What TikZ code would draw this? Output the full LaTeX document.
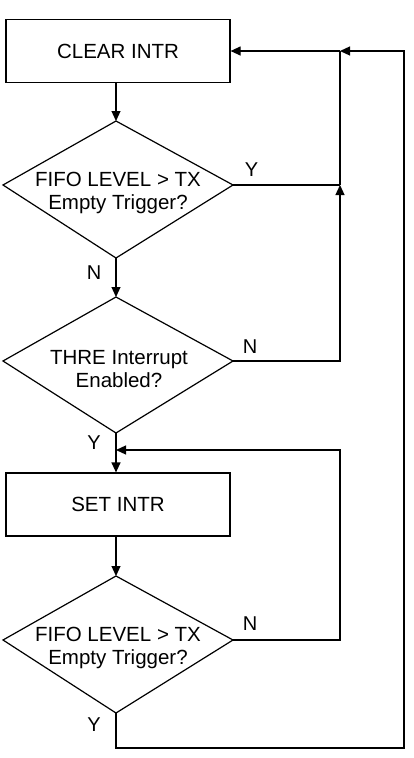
\documentclass[tikz,border=0pt]{standalone}
\usepackage{fontspec}
\setmainfont{Liberation Sans}
\usetikzlibrary{arrows.meta}
\begin{document}
\begin{tikzpicture}[x=1pt,y=-1pt, line width=1.2pt,
  arr/.style={-{Triangle[length=10pt,width=9pt]}},
  box/.style={draw, minimum width=224pt, minimum height=63pt, inner sep=0pt, font=\fontsize{20.5}{23.5}\selectfont},
  txt/.style={align=center, inner sep=0pt, font=\fontsize{20.5}{23.5}\selectfont},
  lbl/.style={inner sep=0pt, font=\fontsize{20}{22}\selectfont}]
\useasboundingbox (0,0) rectangle (414,758);
% boxes
\node[box] (clr) at (118,51) {CLEAR INTR};
\node[box] (set) at (118,504.5) {SET INTR};
% diamond 1
\coordinate (d1t) at (116,121);
\coordinate (d1r) at (233,185);
\coordinate (d1b) at (116,258);
\coordinate (d1l) at (3,185);
\draw (d1t) -- (d1r) -- (d1b) -- (d1l) -- cycle;
\node[txt] (d1) at (118,193) {FIFO LEVEL > TX\\Empty Trigger?};
% diamond 2
\coordinate (d2t) at (116,297);
\coordinate (d2r) at (233,361);
\coordinate (d2b) at (116,433);
\coordinate (d2l) at (3,361);
\draw (d2t) -- (d2r) -- (d2b) -- (d2l) -- cycle;
\node[txt] (d2) at (119,369) {THRE Interrupt\\Enabled?};
% diamond 3
\coordinate (d3t) at (116,576);
\coordinate (d3r) at (233,640);
\coordinate (d3b) at (116,713);
\coordinate (d3l) at (3,640);
\draw (d3t) -- (d3r) -- (d3b) -- (d3l) -- cycle;
\node[txt] (d3) at (118,648) {FIFO LEVEL > TX\\Empty Trigger?};
% junctions
\coordinate (j1) at (340,185);
\coordinate (j2) at (340,51);
\coordinate (j3) at (340,450);
\coordinate (j4) at (116,450);
\coordinate (c2) at (404,748);
% connectors
\draw[arr] (clr.south -| d1t) -- (d1t);
\draw[arr] (d1b) -- (d2t);
\draw[arr] (d2b) -- (set.north -| d2b);
\draw[arr] (set.south -| d3t) -- (d3t);
\draw (d1r) -- (j1);
\draw[arr] (d2r) -| (j1);
\draw (j1) -- (j2);
\draw[arr] (j2) -- (clr.east);
\draw[arr] (d3r) -| (j3) -- (j4);
\draw[arr] (d3b) |- (c2) |- (j2);
% labels
\node[lbl] (ly1) at (251.5,170) {Y};
\node[lbl] (ln1) at (94,272.5) {N};
\node[lbl] (ln2) at (250,346.5) {N};
\node[lbl] (ly2) at (94,443) {Y};
\node[lbl] (ln3) at (250,623.5) {N};
\node[lbl] (ly3) at (94,725) {Y};
\end{tikzpicture}
\end{document}
